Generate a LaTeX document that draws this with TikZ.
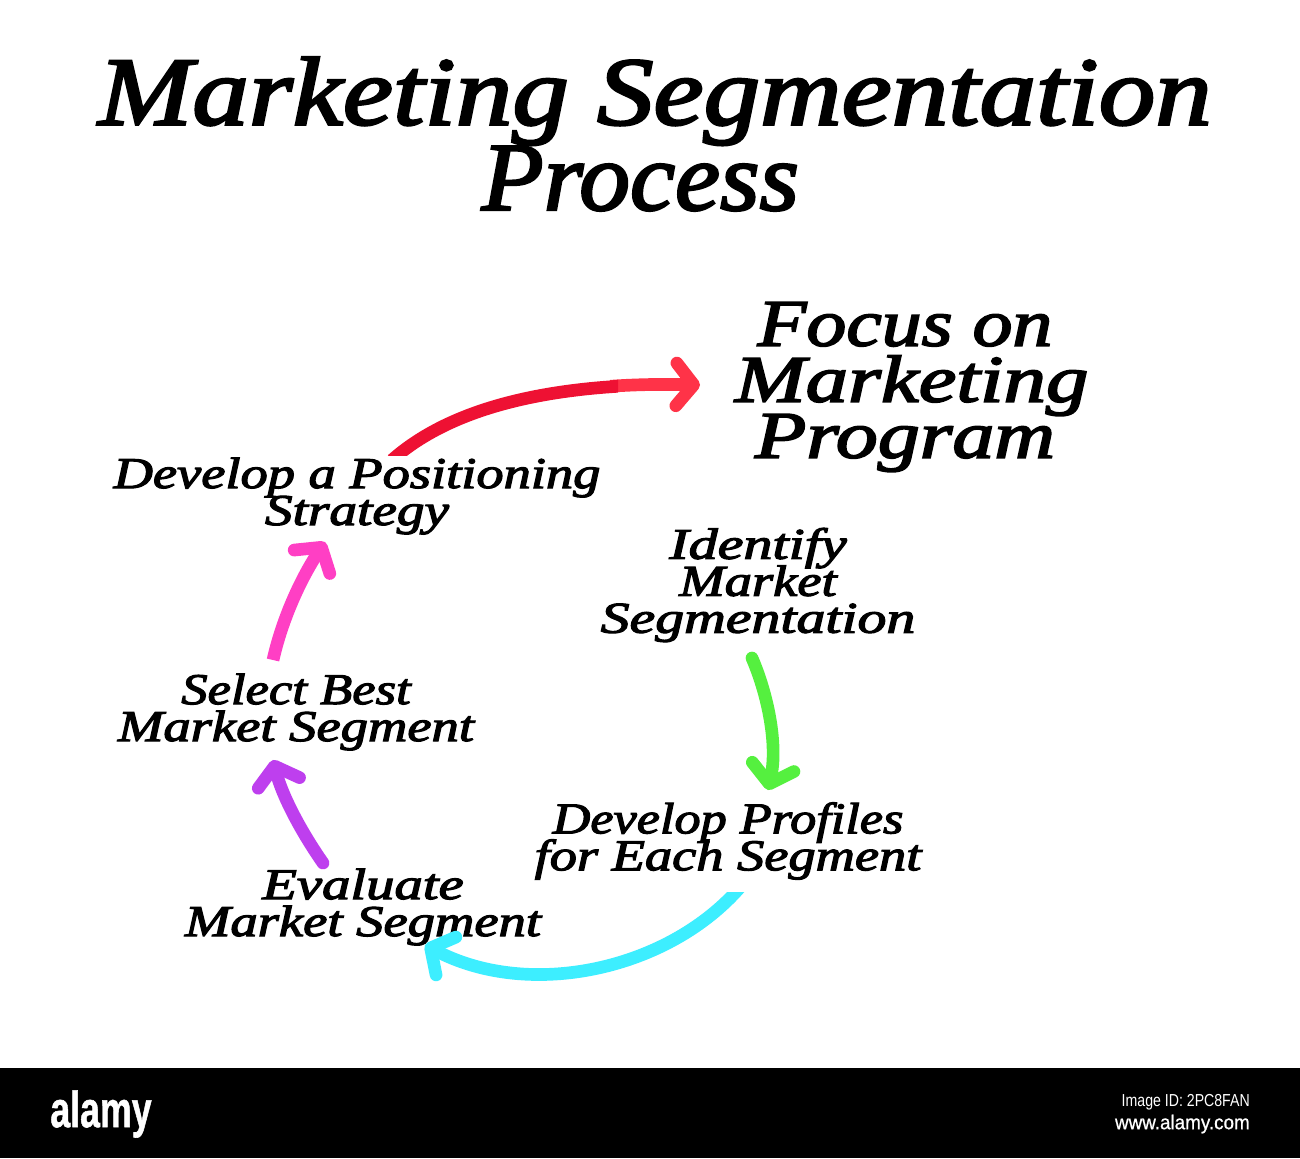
\documentclass[tikz,border=0pt]{standalone}
\usepackage{fontspec}
\usepackage{graphicx}
\usetikzlibrary{arrows.meta}
\newfontfamily\scr{Liberation Serif}[UprightFont=* Italic,FakeBold=2.4]
\newfontfamily\cond{Liberation Sans}
\newfontfamily\condb{Liberation Sans}[UprightFont=* Bold,FakeBold=1.2]
\newfontfamily\condm{Liberation Sans}[FakeBold=0.8]
\newcommand\fitw[2]{\resizebox{#1}{\height}{#2}}
\lineskiplimit=-100pt
\tikzset{
  label/.style={inner sep=0pt,align=center,text=black,font=\scr\fontsize{33}{27.7}\selectfont},
  bigtext/.style={label,font=\scr\fontsize{50}{42}\selectfont},
  titletext/.style={label,font=\scr\fontsize{73}{64}\selectfont},
  flow/.style={line width=9.5pt,line cap=butt,
    -{Straight Barb[length=13pt,width=32pt,line width=9.5pt,round]}},
  roundflow/.style={flow,line cap=round},
  wm/.style={inner sep=0pt,text=white,font=\cond},
}
\definecolor{cred}{HTML}{EE1133}
\definecolor{credl}{HTML}{FF3348}
\definecolor{cpink}{HTML}{FF3FC4}
\definecolor{cviolet}{HTML}{BE3FEE}
\definecolor{ccyan}{HTML}{3DEEFF}
\definecolor{cgreen}{HTML}{55F03F}
\begin{document}
\begin{tikzpicture}[x=0.75pt,y=-0.75pt]
\useasboundingbox (0,0) rectangle (1300,1158);
\fill[white] (0,0) rectangle (1300,1158);
\fill[black] (0,1068) rectangle (1300,1158);

\node[titletext] (title) at (655,134) {\fitw{835pt}{Marketing Segmentation}\\\hspace*{-22pt}\fitw{238pt}{Process}};
\node[bigtext] (focus) at (905,387) {\fitw{221pt}{Focus on}\\\hspace*{10pt}\fitw{265pt}{Marketing}\\\fitw{225pt}{Program}};
\node[label] (position) at (357,496) {\fitw{365pt}{Develop a Positioning}\\\fitw{138pt}{Strategy}};
\node[label] (identify) at (758,585) {\fitw{133pt}{Identify}\\\fitw{118pt}{Market}\\\fitw{236pt}{Segmentation}};
\node[label] (profiles) at (728,841) {\fitw{263pt}{Develop Profiles}\\\fitw{290pt}{for Each Segment}};
\node[label] (evaluate) at (363,907) {\fitw{151pt}{Evaluate}\\\fitw{267pt}{Market Segment}};
\node[label] (select) at (296,712) {\fitw{172pt}{Select Best}\\\fitw{267pt}{Market Segment}};

\draw[roundflow,cgreen] ([shift={(-6,73)}]identify.center) .. controls +(16,37) and +(10,-45) .. ([shift={(40,-51)}]profiles.center);
\begin{scope}
\clip (400,892) rectangle (800,1000);
\draw[flow,ccyan] ([shift={(14,44)}]profiles.center) .. controls +(-72,85) and +(105,55) .. ([shift={(62,38)}]evaluate.center);
\end{scope}
\draw[roundflow,cviolet] ([shift={(-40,-44)}]evaluate.center) .. controls +(-23,-33) and +(9,35) .. ([shift={(-23,48)}]select.center);
\draw[flow,cpink] ([shift={(-23,-52)}]select.center) .. controls +(9,-40) and +(-25,38) .. ([shift={(-32,46)}]position.center);
\begin{scope}
\clip (610,340) rectangle (720,420);
\draw[flow,credl] ([shift={(35,-36)}]position.center) .. controls +(70,-62) and +(-120,-3) .. ([shift={(-205,-2)}]focus.center);
\end{scope}
\begin{scope}
\clip (370,340) rectangle (618,455);
\draw[line width=9.5pt,cred] ([shift={(35,-36)}]position.center) .. controls +(70,-62) and +(-120,-3) .. ([shift={(-205,-2)}]focus.center);
\end{scope}

\node[wm,font=\condb\fontsize{38}{38}\selectfont] (logo) at (101,1114) {\resizebox{76pt}{\height}{alamy}};
\node[wm,font=\cond\fontsize{13}{13}\selectfont,anchor=east] (imgid) at (1250,1102) {\resizebox{96pt}{\height}{Image ID: 2PC8FAN}};
\node[wm,font=\condm\fontsize{15}{15}\selectfont,anchor=east] (www) at (1250,1124) {\resizebox{101pt}{\height}{www.alamy.com}};
\end{tikzpicture}
\end{document}
